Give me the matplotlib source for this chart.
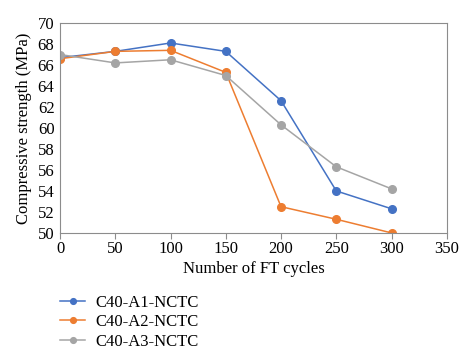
import matplotlib
matplotlib.use("Agg")
import matplotlib.pyplot as plt

cycles = [0, 50, 100, 150, 200, 250, 300]
a1 = [66.7, 67.3, 68.1, 67.3, 62.6, 54.0, 52.3]
a2 = [66.6, 67.3, 67.4, 65.3, 52.5, 51.3, 50.0]
a3 = [67.0, 66.2, 66.5, 65.0, 60.3, 56.3, 54.2]
names = ["C40-A1-NCTC", "C40-A2-NCTC", "C40-A3-NCTC"]
colors = ["#4472C4", "#ED7D31", "#A5A5A5"]

plt.rcParams['font.family'] = ['Liberation Serif', 'DejaVu Serif']

fig = plt.figure(figsize=(4.74, 3.6), dpi=100)
ax = fig.add_axes([0.1266, 0.353, 0.816, 0.583])

for ys, name, c in zip([a1, a2, a3], names, colors):
    ax.plot(cycles, ys, color=c, marker='o', markersize=5.5, linewidth=1.1, label=name)

ax.set_xlim(0, 350)
ax.set_ylim(50, 70)
ax.set_xticks(range(0, 351, 50))
ax.set_yticks(range(50, 71, 2))
for s in ax.spines.values():
    s.set_color('#8c8c8c')
ax.tick_params(axis='x', direction='out', length=4, color='#8c8c8c', labelsize=12, pad=2)
ax.tick_params(axis='y', length=0, labelsize=12, pad=4)
ax.set_xlabel("Number of FT cycles", fontsize=12, labelpad=3)
ax.set_ylabel("Compressive strength (MPa)", fontsize=12, labelpad=4)

ax.legend(loc='upper left', bbox_to_anchor=(0.0, -0.295), frameon=False,
          fontsize=12, handlelength=1.5, labelspacing=0.2, borderpad=0,
          borderaxespad=0, handletextpad=0.6, markerscale=0.75)

fig.savefig("out.png", dpi=100)
